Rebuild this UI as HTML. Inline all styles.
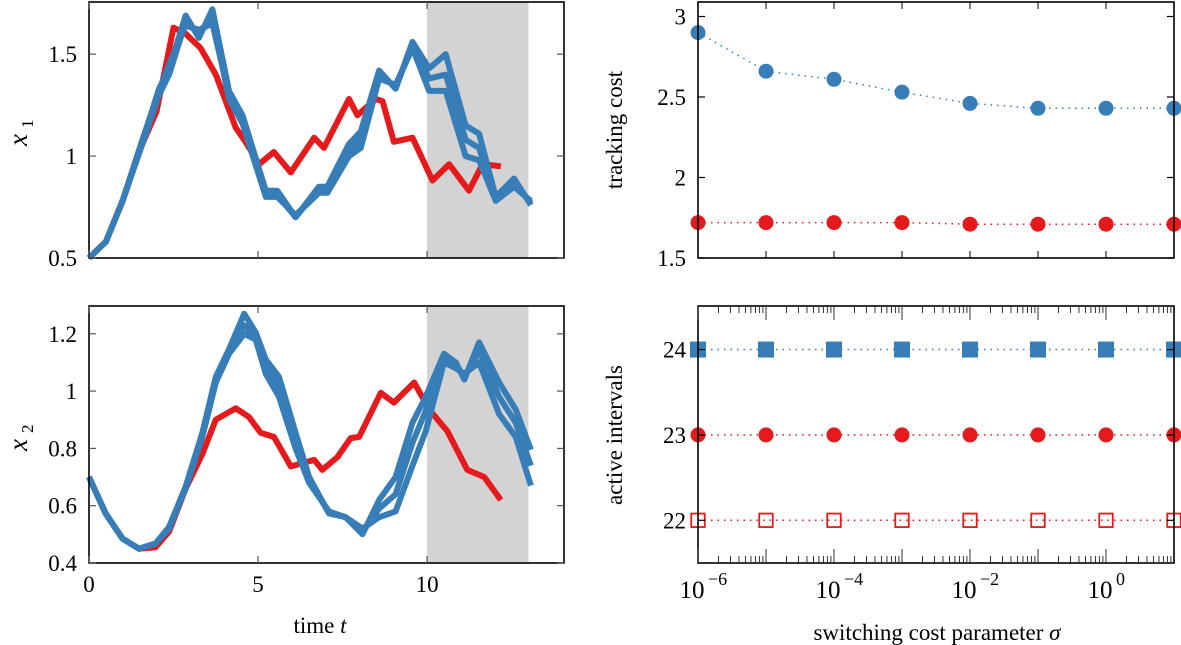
<!DOCTYPE html>
<html><head><meta charset="utf-8">
<style>
html,body{margin:0;padding:0;background:#fff;}
svg{display:block;font-family:"Liberation Serif",serif;}
</style></head>
<body>
<svg id="fig" width="1181" height="645" viewBox="0 0 1181 645" xmlns="http://www.w3.org/2000/svg"></svg>
<script>
// ---------- data ----------
const tRedX1 = [0,0.5,1.0,1.5,2.0,2.5,2.86,3.3,3.75,4.34,4.63,5.03,5.47,5.97,6.66,6.95,7.69,7.94,8.48,8.68,9.02,9.57,10.16,10.65,11.24,11.64,12.18];
const vRedX1 = [0.5,0.58,0.78,1.03,1.22,1.63,1.60,1.53,1.40,1.14,1.07,0.96,1.02,0.92,1.09,1.04,1.28,1.20,1.28,1.27,1.07,1.09,0.88,0.96,0.83,0.96,0.95];
const tBlueX1 = [0,0.5,0.99,1.58,2.07,2.37,2.86,3.25,3.65,4.14,4.54,5.23,5.57,6.11,6.8,7.05,7.69,8.04,8.58,9.07,9.57,10.06,10.55,11.14,11.54,12.03,12.57,13.07];
const vBlueX1a = [0.5,0.58,0.78,1.07,1.33,1.43,1.69,1.58,1.72,1.32,1.20,0.83,0.83,0.70,0.85,0.85,1.06,1.12,1.42,1.33,1.56,1.43,1.50,1.15,1.11,0.80,0.89,0.76];
const vBlueX1b = [0.5,0.58,0.78,1.06,1.30,1.40,1.66,1.60,1.68,1.28,1.16,0.80,0.80,0.71,0.82,0.82,1.00,1.04,1.38,1.35,1.53,1.32,1.32,1.00,0.98,0.78,0.85,0.78];
const vBlueX1c = [0.5,0.58,0.78,1.08,1.32,1.45,1.64,1.62,1.65,1.30,1.18,0.82,0.81,0.70,0.84,0.83,1.02,1.08,1.40,1.34,1.54,1.38,1.40,1.08,1.04,0.79,0.87,0.77];
const tRedX2 = [0,0.49,0.99,1.48,1.97,2.37,2.86,3.35,3.75,4.34,4.73,5.08,5.47,5.97,6.66,6.9,7.35,7.74,7.99,8.63,9.02,9.62,10.06,10.6,11.19,11.69,12.18];
const vRedX2 = [0.70,0.573,0.485,0.45,0.455,0.51,0.66,0.78,0.90,0.94,0.91,0.854,0.84,0.737,0.76,0.725,0.77,0.836,0.84,0.994,0.96,1.03,0.936,0.86,0.725,0.70,0.62];
const tBlueX2 = [0,0.49,0.99,1.48,1.97,2.37,2.86,3.35,3.75,4.14,4.59,4.93,5.23,5.62,6.11,6.51,7.1,7.59,8.09,8.58,9.07,9.57,9.96,10.5,10.85,11.1,11.54,12.13,12.62,13.07];
const vBlueX2a = [0.70,0.573,0.485,0.45,0.468,0.526,0.667,0.854,1.05,1.146,1.27,1.205,1.11,1.05,0.854,0.70,0.573,0.56,0.50,0.62,0.70,0.89,0.98,1.13,1.10,1.04,1.17,1.03,0.936,0.795];
const vBlueX2b = [0.70,0.573,0.485,0.45,0.468,0.52,0.66,0.84,1.03,1.13,1.20,1.18,1.06,0.98,0.80,0.68,0.58,0.56,0.52,0.56,0.58,0.74,0.86,1.10,1.08,1.06,1.10,0.92,0.84,0.67];
const vBlueX2c = [0.70,0.573,0.485,0.45,0.468,0.525,0.665,0.85,1.04,1.14,1.23,1.19,1.09,1.02,0.83,0.69,0.575,0.56,0.51,0.59,0.64,0.82,0.93,1.12,1.09,1.05,1.14,0.98,0.89,0.74];
const sigmaExp = [-6,-5,-4,-3,-2,-1,0,1];
const trackBlue = [2.9,2.66,2.61,2.53,2.46,2.43,2.43,2.43];
const trackRed = [1.72,1.72,1.72,1.72,1.71,1.71,1.71,1.71];
const activeBlue = [24,24,24,24,24,24,24,24];
const activeRed = [23,23,23,23,23,23,23,23];
const activeRedOpen = [22,22,22,22,22,22,22,22];
const x1Ticks = [0.5,1,1.5];
const x1TickLabels = ["0.5","1","1.5"];
const x2Ticks = [0.4,0.6,0.8,1,1.2];
const x2TickLabels = ["0.4","0.6","0.8","1","1.2"];
const tTicks = [0,5,10];
const trackTicks = [1.5,2,2.5,3];
const trackTickLabels = ["1.5","2","2.5","3"];
const activeTicks = [22,23,24];
const logLabelExp = [-6,-4,-2,0];

// ---------- helpers ----------
const NS="http://www.w3.org/2000/svg";
const svg=document.getElementById('fig');
function mk(tag,attrs,parent){const e=document.createElementNS(NS,tag);for(const k in attrs)e.setAttribute(k,attrs[k]);(parent||svg).appendChild(e);return e;}
const RED="#e41a1c", BLUE="#377eb8";
const FS=23;

const L={x0:89,x1:564}, R={x0:698,x1:1174};
const TOP={y0:2,y1:258}, BOT={y0:306,y1:563};
const tx = t => L.x0 + (t-0)/(14.05-0)*(L.x1-L.x0);
const y1s = v => TOP.y1 - (v-0.5)/(1.756-0.5)*(TOP.y1-TOP.y0);
const y2s = v => BOT.y1 - (v-0.4)/(1.297-0.4)*(BOT.y1-BOT.y0);
const lx = e => R.x0 + (e+6)/7*(R.x1-R.x0);
const trs = v => TOP.y1 - (v-1.5)/(3.09-1.5)*(TOP.y1-TOP.y0);
const acs = v => BOT.y1 - (v-21.5)/(24.51-21.5)*(BOT.y1-BOT.y0);

function shade(ys,name){
  const r=mk('rect',{x:tx(10),y:ys.y0,width:tx(13)-tx(10),height:ys.y1-ys.y0,fill:"#d3d3d3"});
  
  
}
function series(ts,vs,ys,color,name){
  const pts=ts.map((t,i)=>tx(t).toFixed(1)+","+ys(vs[i]).toFixed(1)).join(" ");
  const p=mk('polyline',{points:pts,fill:"none",stroke:color,"stroke-width":6,"stroke-linejoin":"round"});
  
  
}
function frame(xa,ys,name){
  const r=mk('rect',{x:xa.x0,y:ys.y0,width:xa.x1-xa.x0,height:ys.y1-ys.y0,fill:"none",stroke:"#000","stroke-width":1.6});
  
  
}
function text(x,y,s,opts,name){
  const t=mk('text',Object.assign({x:x,y:y,"font-size":FS,fill:"#000"},opts||{}));
  t.textContent=s;
  
  
  return t;
}

// ---------- left top ----------
shade(TOP,'shaded-region-x1');
series(tRedX1,vRedX1,y1s,RED,'red-series-x1');
series(tBlueX1,vBlueX1b,y1s,BLUE,'blue-series-x1-b');
series(tBlueX1,vBlueX1c,y1s,BLUE,'blue-series-x1-c');
series(tBlueX1,vBlueX1a,y1s,BLUE,'blue-series-x1-a');
frame(L,TOP,'x1-plot-frame');
x1Ticks.forEach((v,i)=>{
  mk('line',{x1:L.x0,x2:L.x0+7,y1:y1s(v),y2:y1s(v),stroke:"#555","stroke-width":1.2});
  mk('line',{x1:L.x1-7,x2:L.x1,y1:y1s(v),y2:y1s(v),stroke:"#555","stroke-width":1.2});
  text(L.x0-12,y1s(v)+8,x1TickLabels[i],{"text-anchor":"end"},'x1-tick-label');
});
tTicks.forEach(t=>{
  mk('line',{x1:tx(t),x2:tx(t),y1:TOP.y1,y2:TOP.y1-7,stroke:"#555","stroke-width":1.2});
  mk('line',{x1:tx(t),x2:tx(t),y1:TOP.y0,y2:TOP.y0+7,stroke:"#555","stroke-width":1.2});
});
text(27,140,"x",{"font-style":"italic","font-size":27,transform:"rotate(-90 27 140)","text-anchor":"middle"},'x1-axis-title');
text(33,128,"1",{"font-size":17,transform:"rotate(-90 33 128)"},'x1-axis-subscript');

// ---------- left bottom ----------
shade(BOT,'shaded-region-x2');
series(tRedX2,vRedX2,y2s,RED,'red-series-x2');
series(tBlueX2,vBlueX2b,y2s,BLUE,'blue-series-x2-b');
series(tBlueX2,vBlueX2c,y2s,BLUE,'blue-series-x2-c');
series(tBlueX2,vBlueX2a,y2s,BLUE,'blue-series-x2-a');
frame(L,BOT,'x2-plot-frame');
x2Ticks.forEach((v,i)=>{
  mk('line',{x1:L.x0,x2:L.x0+7,y1:y2s(v),y2:y2s(v),stroke:"#555","stroke-width":1.2});
  mk('line',{x1:L.x1-7,x2:L.x1,y1:y2s(v),y2:y2s(v),stroke:"#555","stroke-width":1.2});
  text(L.x0-12,y2s(v)+8,x2TickLabels[i],{"text-anchor":"end"},'x2-tick-label');
});
tTicks.forEach(t=>{
  mk('line',{x1:tx(t),x2:tx(t),y1:BOT.y1,y2:BOT.y1-7,stroke:"#555","stroke-width":1.2});
  mk('line',{x1:tx(t),x2:tx(t),y1:BOT.y0,y2:BOT.y0+7,stroke:"#555","stroke-width":1.2});
  text(tx(t),592,String(t),{"text-anchor":"middle"},'time-tick-label');
});
text(27,445,"x",{"font-style":"italic","font-size":27,transform:"rotate(-90 27 445)","text-anchor":"middle"},'x2-axis-title');
text(33,433,"2",{"font-size":17,transform:"rotate(-90 33 433)"},'x2-axis-subscript');
const tl=text(320,633,"time ",{"text-anchor":"middle"},'time-axis-title');
const ts=mk('tspan',{"font-style":"italic"},tl); ts.textContent="t";

// ---------- right top ----------
function dotted(vals,ys,color,name){
  const pts=sigmaExp.map((e,i)=>lx(e).toFixed(1)+","+ys(vals[i]).toFixed(1)).join(" ");
  const p=mk('polyline',{points:pts,fill:"none",stroke:color,"stroke-width":1.5,"stroke-dasharray":"1.5 5"});
  
  
}
function circles(vals,ys,color,name){
  sigmaExp.forEach((e,i)=>{
    const c=mk('circle',{cx:lx(e),cy:ys(vals[i]),r:7.5,fill:color});
    
    
  });
}
function squares(vals,ys,color,filled,name){
  sigmaExp.forEach((e,i)=>{
    const s=filled?15:13.5;
    const r=mk('rect',{x:lx(e)-s/2,y:ys(vals[i])-s/2,width:s,height:s,fill:filled?color:"none",stroke:color,"stroke-width":filled?1:1.8});
    
    
  });
}
dotted(trackBlue,trs,BLUE,'tracking-blue-line');
dotted(trackRed,trs,RED,'tracking-red-line');
circles(trackBlue,trs,BLUE,'tracking-blue-marker');
circles(trackRed,trs,RED,'tracking-red-marker');
frame(R,TOP,'tracking-plot-frame');
trackTicks.forEach((v,i)=>{
  mk('line',{x1:R.x0,x2:R.x0+7,y1:trs(v),y2:trs(v),stroke:"#000","stroke-width":1.2});
  mk('line',{x1:R.x1-7,x2:R.x1,y1:trs(v),y2:trs(v),stroke:"#000","stroke-width":1.2});
  text(R.x0-12,trs(v)+8,trackTickLabels[i],{"text-anchor":"end"},'tracking-tick-label');
});
text(622,130,"tracking cost",{transform:"rotate(-90 622 130)","text-anchor":"middle"},'tracking-axis-title');

// ---------- right bottom ----------
dotted(activeBlue,acs,BLUE,'active-blue-line');
dotted(activeRed,acs,RED,'active-red-line');
dotted(activeRedOpen,acs,RED,'active-red-open-line');
squares(activeBlue,acs,BLUE,true,'active-blue-marker');
circles(activeRed,acs,RED,'active-red-marker');
squares(activeRedOpen,acs,RED,false,'active-red-open-marker');
frame(R,BOT,'active-plot-frame');
activeTicks.forEach(v=>{
  mk('line',{x1:R.x0,x2:R.x0+7,y1:acs(v),y2:acs(v),stroke:"#000","stroke-width":1.2});
  mk('line',{x1:R.x1-7,x2:R.x1,y1:acs(v),y2:acs(v),stroke:"#000","stroke-width":1.2});
  text(R.x0-12,acs(v)+8,String(v),{"text-anchor":"end"},'active-tick-label');
});
for(let d=-6;d<=0;d++){
  for(let m=1;m<=9;m++){
    const x=lx(d+Math.log10(m)); if(x>R.x1) continue;
    const len=m===1?14:7;
    mk('line',{x1:x,x2:x,y1:BOT.y1,y2:BOT.y1-len,stroke:"#333","stroke-width":1});
    mk('line',{x1:x,x2:x,y1:BOT.y0,y2:BOT.y0+len,stroke:"#333","stroke-width":1});
  }
}
sigmaExp.forEach(e=>{
  mk('line',{x1:lx(e),x2:lx(e),y1:TOP.y1,y2:TOP.y1-7,stroke:"#000","stroke-width":1});
  mk('line',{x1:lx(e),x2:lx(e),y1:TOP.y0,y2:TOP.y0+7,stroke:"#000","stroke-width":1});
});
logLabelExp.forEach(e=>{
  text(lx(e)-6,598,"10",{"text-anchor":"middle","font-size":25},'sigma-tick-label');
  text(lx(e)+10,585,(e<0?"\u2212":"")+Math.abs(e),{"font-size":18},'sigma-tick-exponent');
});
text(622,435,"active intervals",{transform:"rotate(-90 622 435)","text-anchor":"middle"},'active-axis-title');
const st=text(937,640,"switching cost parameter ",{"text-anchor":"middle"},'sigma-axis-title');
const sg=mk('tspan',{"font-style":"italic"},st); sg.textContent="\u03c3";
</script>
</body></html>
